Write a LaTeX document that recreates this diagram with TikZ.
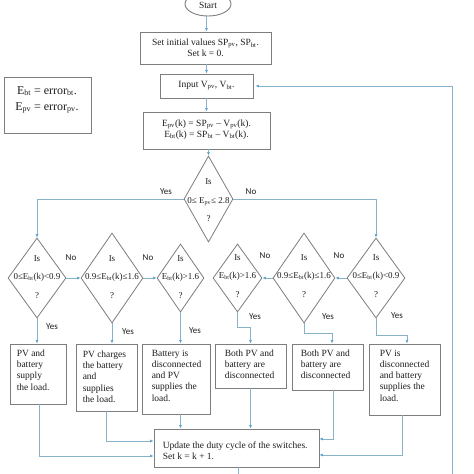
\documentclass[tikz,border=0pt]{standalone}
\usepackage{fontspec}
\setmainfont{Liberation Serif}
\newfontfamily\ynfont{Carlito}
\usetikzlibrary{shapes.geometric,arrows.meta,calc}
\newcommand{\sbs}[1]{\textsubscript{#1}}
\definecolor{lc}{RGB}{135,178,200}
\definecolor{ac}{RGB}{95,165,205}
\definecolor{bc}{RGB}{125,125,125}
\definecolor{tc}{RGB}{30,30,30}
\begin{document}
\begin{tikzpicture}[x=1pt,y=-1pt,
  box/.style={draw=bc,line width=0.9pt,rectangle,inner sep=0pt},
  dia/.style={draw=bc,line width=0.8pt,diamond,inner sep=0pt},
  conn/.style={draw=lc,line width=0.9pt},
  arr/.style={conn,-{Latex[length=3.5pt,width=3pt,color=ac]}},
  txt/.style={text=tc,font=\fontsize{9.5}{11.3}\selectfont,inner sep=0pt},
  ctxt/.style={txt,align=center},
  ltxt/.style={txt,align=left,anchor=north west},
  dtxt/.style={text=tc,font=\fontsize{9}{18.5}\selectfont,inner sep=0pt,align=center},
  yn/.style={text=tc,font=\ynfont\fontsize{9}{10}\selectfont,inner sep=0pt}
]
\useasboundingbox (0,0) rectangle (474,474);
\fill[white] (0,0) rectangle (474,474);
\clip (0,0) rectangle (474,474);

% top column
\node[box,ellipse,minimum width=46,minimum height=24] (start) at (208,4) {};
\node[txt] (tstart) at (208,5) {Start};
\node[box,minimum width=131,minimum height=32] (box1) at (205.5,48) {};
\node[ctxt] (tbox1) at (205.5,48) {Set initial values SP\sbs{pv}, SP\sbs{bt}.\\Set k = 0.};
\node[box,minimum width=93,minimum height=24] (box2) at (206.5,86) {};
\node[ctxt] (tbox2) at (206.5,86) {Input V\sbs{pv}, V\sbs{bt}.};
\node[box,minimum width=127,minimum height=37] (box3) at (206.5,130.5) {};
\node[ctxt] (tbox3) at (206.5,129.5) {E\sbs{pv}(k) = SP\sbs{pv} -- V\sbs{pv}(k).\\E\sbs{bt}(k) = SP\sbs{bt} -- V\sbs{bt}(k).};
\node[box,minimum width=87,minimum height=56] (lbox) at (47.5,105) {};
\node[text=tc,font=\fontsize{12}{16}\selectfont,inner sep=0pt,align=center] (tlbox) at (47,100) {E\sbs{bt} = error\sbs{bt}.\\E\sbs{pv} = error\sbs{pv}.};

% diamonds
\node[dia,minimum width=49,minimum height=86] (d0) at (208.5,199) {};
\node[dtxt] (td0) at (208.5,200.5) {Is\\0≤ E\sbs{pv}≤ 2.8\\?};
\node[dia,minimum width=58,minimum height=80] (l1) at (37,278) {};
\node[dia,minimum width=62,minimum height=90] (l2) at (112,278) {};
\node[dia,minimum width=47,minimum height=68] (l3) at (180.5,278) {};
\node[dia,minimum width=49,minimum height=68] (r3) at (237.5,278) {};
\node[dia,minimum width=62,minimum height=90] (r2) at (304,278) {};
\node[dia,minimum width=58,minimum height=80] (r1) at (376,278) {};
\node[dtxt] (tl1) at (37,277) {Is\\0≤E\sbs{bt}(k)<0.9\\?};
\node[dtxt] (tl2) at (112,277) {Is\\0.9≤E\sbs{bt}(k)≤1.6\\?};
\node[dtxt] (tl3) at (180.5,277) {Is\\E\sbs{bt}(k)>1.6\\?};
\node[dtxt] (tr3) at (237.5,276) {Is\\E\sbs{bt}(k)>1.6\\?};
\node[dtxt] (tr2) at (304,276) {Is\\0.9≤E\sbs{bt}(k)≤1.6\\?};
\node[dtxt] (tr1) at (376,276) {Is\\0≤E\sbs{bt}(k)<0.9\\?};

% bottom boxes
\node[box,minimum width=56,minimum height=60] (b1) at (38,374) {};
\node[box,minimum width=61,minimum height=67] (b2) at (106.5,377.5) {};
\node[box,minimum width=68,minimum height=70] (b3) at (176,379) {};
\node[box,minimum width=71,minimum height=44] (b4) at (250.5,366) {};
\node[box,minimum width=71,minimum height=46] (b5) at (327.5,367) {};
\node[box,minimum width=71,minimum height=71] (b6) at (404.5,379.5) {};
\node[ltxt] (tb1) at ($(b1.north west)+(7,6)$) {PV and\\battery\\supply\\the load.};
\node[ltxt] (tb2) at ($(b2.north west)+(7,7)$) {PV charges\\the battery\\and\\supplies\\the load.};
\node[ltxt] (tb3) at ($(b3.north west)+(10,6)$) {Battery is\\disconnected\\and PV\\supplies the\\load.};
\node[ltxt] (tb4) at ($(b4.north west)+(10,6)$) {Both PV and\\battery are\\disconnected};
\node[ltxt] (tb5) at ($(b5.north west)+(9,6)$) {Both PV and\\battery are\\disconnected};
\node[ltxt] (tb6) at ($(b6.north west)+(11,6)$) {PV is\\disconnected\\and battery\\supplies the\\load.};

\node[box,minimum width=165,minimum height=38] (upd) at (236.5,448) {};
\node[txt,align=left,anchor=west] (tupd) at ($(upd.west)+(9,3)$) {Update the duty cycle of the switches.\\Set k = k + 1.};

% connectors
\draw[arr] (start.south -| box2) -- (box1.north -| box2);
\draw[arr] (box1.south -| box2) -- (box2.north);
\draw[arr] (box2.south) -- (box3.north -| box2);
\draw[arr] (box3.south -| d0) -- (d0.north);
\draw[arr] (d0.west) -| (l1.north);
\draw[arr] (d0.east) -| (r1.north);
\draw[arr] (l1.east) -- (l2.west);
\draw[arr] (l2.east) -- (l3.west);
\draw[arr] (r1.west) -- (r2.east);
\draw[arr] (r2.west) -- (r3.east);
\draw[arr] (l1.south) -- (l1.south |- b1.north);
\draw[arr] (l2.south) -- (l2.south |- b2.north);
\draw[arr] (l3.south) -- (l3.south |- b3.north);
\draw[arr] (r3.south) -- ++(0,15) -| (b4.north);
\draw[arr] (r2.south) -- ++(0,10) -| ($(b5.north)+(4.5,0)$);
\draw[arr] (r1.south) -- ++(0,17) -| ($(b6.north)+(2.5,0)$);
\draw[arr] ($(b1.south)+(1,0)$) |- ($(upd.west)+(0,8)$);
\draw[arr] (b2.south) |- ($(upd.west)+(0,-7)$);
\draw[arr] (b3.south -| l3.south) -- (upd.north -| l3.south);
\draw[arr] (b4.south) -- (b4.south |- upd.north);
\draw[arr] ($(b5.south)+(5.5,0)$) |- ($(upd.east)+(0,-9)$);
\draw[arr] ($(b6.south)+(-2.5,0)$) |- ($(upd.east)+(0,7)$);
\coordinate (loopb) at (452,490);
\draw[arr] ($(upd.south)+(1.5,0)$) |- (loopb) |- ($(box2.east)+(2,0)$);

% yes/no labels
\node[yn] (y0) at (166,192) {Yes};
\node[yn] (n0) at (251,192) {No};
\node[yn] (nl1) at (71,258) {No};
\node[yn] (nl2) at (148,258) {No};
\node[yn] (nr3) at (265,256) {No};
\node[yn] (nr2) at (339,256) {No};
\node[yn] (yl1) at (52,327) {Yes};
\node[yn] (yl2) at (128,332) {Yes};
\node[yn] (yl3) at (195,331) {Yes};
\node[yn] (yr3) at (255,317) {Yes};
\node[yn] (yr2) at (328,317) {Yes};
\node[yn] (yr1) at (397,316) {Yes};
\end{tikzpicture}
\end{document}
